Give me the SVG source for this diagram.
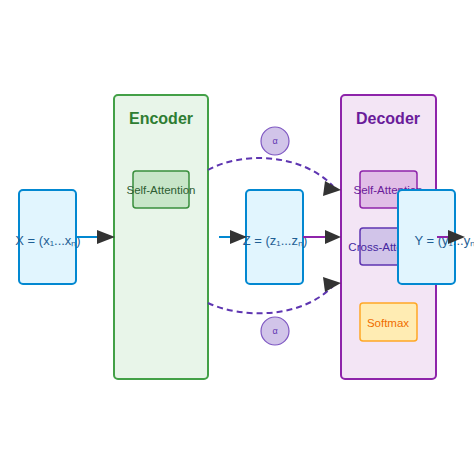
<svg xmlns="http://www.w3.org/2000/svg" width="474" height="474" viewBox="0 0 474 474">
<style>
text{font-family:"Liberation Sans",Arial,sans-serif;text-anchor:middle}
.title{font-size:16px;font-weight:bold}
.lbl{font-size:11.5px}
.seq{fill:#e1f5fe;stroke:#0288d1;stroke-width:2}
.seqt{font-size:13px;fill:#1f5f95}
.alpha{fill:#d1c4e9;stroke:#7e57c2;stroke-width:1.2}
.at{font-size:9px;fill:#5e35b1}
.head{fill:#333}
.dash{fill:none;stroke:#5e35b1;stroke-width:2;stroke-dasharray:6 4}
</style>
<rect width="474" height="474" fill="#fff"/>
<g id="encoder">
<rect x="114" y="95" width="94" height="284" rx="4" fill="#e8f5e9" stroke="#43a047" stroke-width="2"/>
<text class="title" x="161" y="124" fill="#2e7d32">Encoder</text>
</g>
<g id="enc-self-attention">
<rect x="133" y="171" width="56" height="37" rx="3" fill="#c8e6c9" stroke="#388e3c" stroke-width="1.5"/>
<text class="lbl" x="161" y="194" fill="#2e5d32">Self-Attention</text>
</g>
<g id="decoder">
<rect x="341" y="95" width="95" height="284" rx="4" fill="#f3e5f5" stroke="#8e24aa" stroke-width="2"/>
<text class="title" x="388" y="124" fill="#6a1b9a">Decoder</text>
</g>
<g id="dec-self-attention">
<rect x="360" y="171" width="57" height="37" rx="3" fill="#e1bee7" stroke="#8e24aa" stroke-width="1.5"/>
<text class="lbl" x="388" y="194" fill="#6a1b9a">Self-Attention</text>
</g>
<g id="cross-attention">
<rect x="360" y="228" width="57" height="37" rx="3" fill="#d1c4e9" stroke="#5e35b1" stroke-width="1.5"/>
<text class="lbl" x="388" y="251" fill="#4527a0">Cross-Attention</text>
</g>
<g id="softmax">
<rect x="360" y="303" width="57" height="38" rx="3" fill="#ffecb3" stroke="#ffa726" stroke-width="1.5"/>
<text class="lbl" x="388" y="327" fill="#ef6c00">Softmax</text>
</g>
<g id="alpha-top">
<circle class="alpha" cx="275" cy="141" r="14"/>
<text class="at" x="275" y="144">α</text>
</g>
<g id="alpha-bottom">
<circle class="alpha" cx="275" cy="331" r="14"/>
<text class="at" x="275" y="334">α</text>
</g>
<g id="x-seq">
<rect class="seq" x="19" y="190" width="57" height="94" rx="4"/>
<text class="seqt" x="48" y="245">X = (x₁...xₙ)</text>
</g>
<g id="z-seq">
<rect class="seq" x="246" y="190" width="57" height="94" rx="4"/>
<text class="seqt" x="275" y="245">Z = (z₁...zₙ)</text>
</g>
<g id="y-seq">
<rect class="seq" x="398" y="190" width="57" height="94" rx="4"/>
<text class="seqt" x="447" y="245">Y = (y₁...yₙ)</text>
</g>
<g id="connectors">
<line x1="76" y1="237" x2="98" y2="237" stroke="#0288d1" stroke-width="2"/>
<polygon class="head" points="97,230 115,237 97,244"/>
<line x1="219" y1="237" x2="231" y2="237" stroke="#0288d1" stroke-width="2"/>
<polygon class="head" points="230,230 247,237 230,244"/>
<line x1="303" y1="237" x2="326" y2="237" stroke="#8e24aa" stroke-width="2"/>
<polygon class="head" points="325,230 341,237 325,244"/>
<line x1="437" y1="237" x2="449" y2="237" stroke="#8e24aa" stroke-width="2"/>
<polygon class="head" points="448,230 465,237 448,244"/>
<path class="dash" d="M208,170 C240,152 300,152 333,186"/>
<polygon class="head" points="325,181 341,190 323,196"/>
<path class="dash" d="M208,303 C240,318 300,320 333,286"/>
<polygon class="head" points="323,277 341,283 325,292"/>
</g>
</svg>
